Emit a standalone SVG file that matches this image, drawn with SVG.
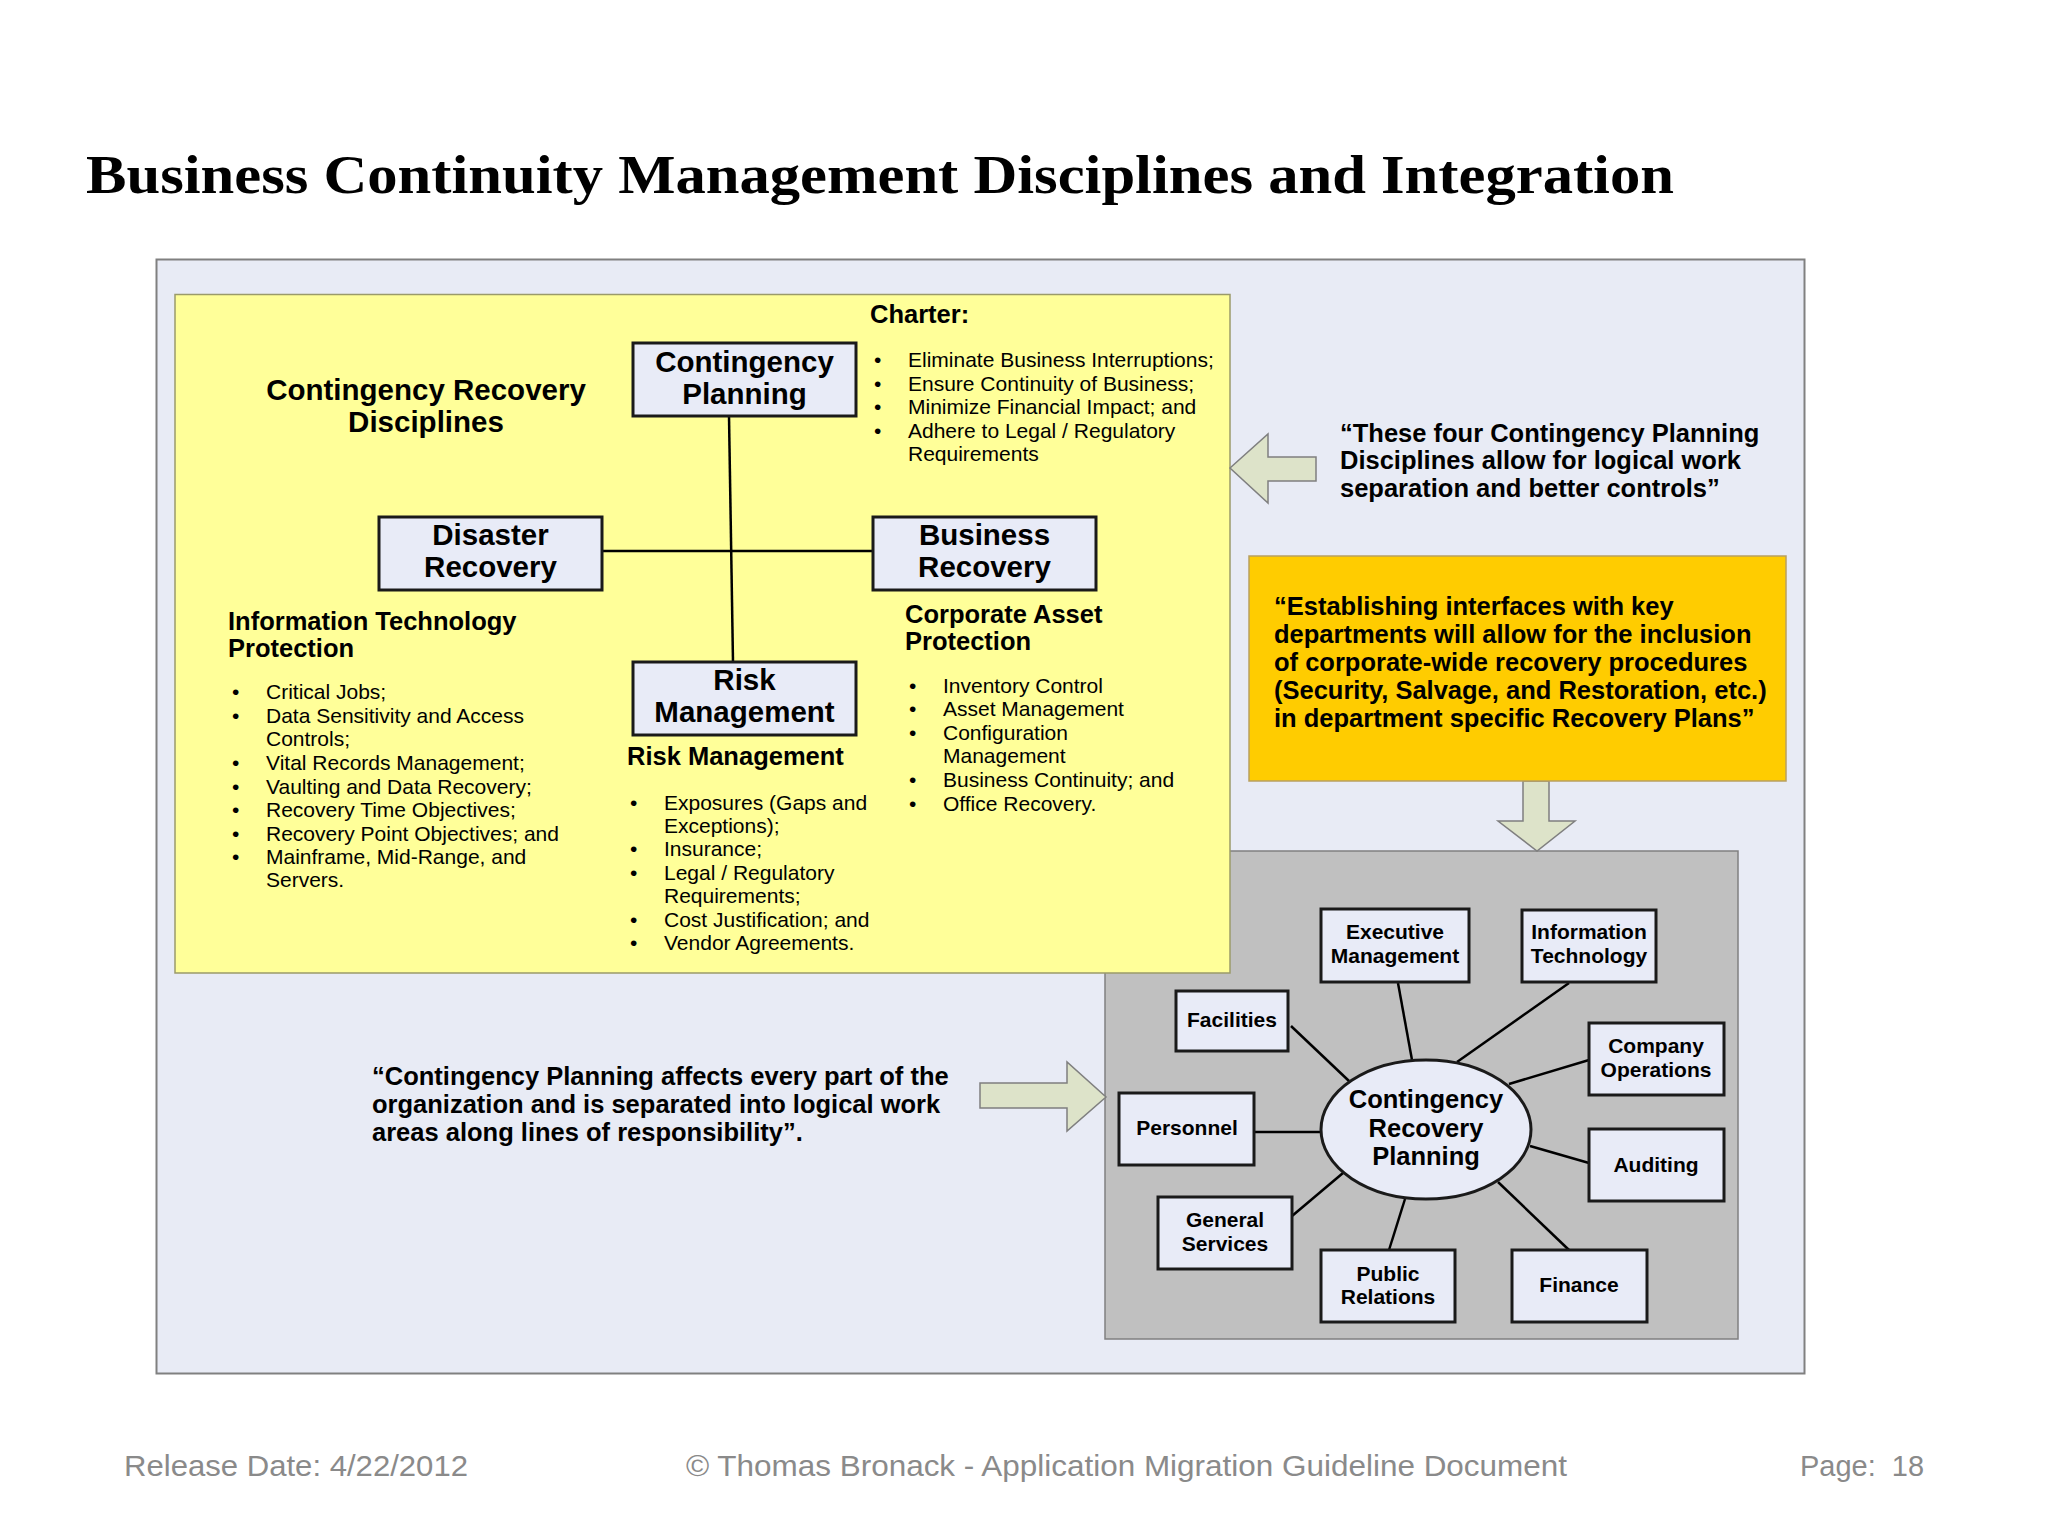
<svg xmlns="http://www.w3.org/2000/svg" width="2048" height="1536" viewBox="0 0 2048 1536">
<style>
.b{font-family:"Liberation Sans",Arial,sans-serif;font-weight:bold;fill:#000}
.r{font-family:"Liberation Sans",Arial,sans-serif;fill:#000;font-size:21px}
.box{fill:#e8ebf7;stroke:#1a1a1a;stroke-width:3}
.nbox{fill:#e8ebf7;stroke:#1a1a1a;stroke-width:3}
.ln{stroke:#000;stroke-width:2.5;fill:none}
.arr{fill:#dde3c9;stroke:#7f7f7f;stroke-width:1.5}
.bx{font-size:29.5px;text-anchor:middle}
.h{font-size:25.5px}
.nd{font-size:21px;text-anchor:middle}
.el{font-size:25.5px;text-anchor:middle}
.ft{font-family:"Liberation Sans",Arial,sans-serif;fill:#8a8a8a;font-size:30px}
</style>
<rect width="2048" height="1536" fill="#ffffff"/>
<text x="86" y="193" font-family="'Liberation Serif','Times New Roman',serif" font-weight="bold" font-size="55" textLength="1588" lengthAdjust="spacingAndGlyphs">Business Continuity Management Disciplines and Integration</text>

<g id="outer-panel"><rect x="156.5" y="259.5" width="1648" height="1114" fill="#e8ebf5" stroke="#808080" stroke-width="2"/></g>
<g id="gray-panel"><rect x="1105" y="851" width="633" height="488" fill="#c0c0c0" stroke="#808080" stroke-width="1.5"/></g>
<g id="yellow-panel"><rect x="175" y="294.5" width="1055" height="678.5" fill="#ffff99" stroke="#9a9a6a" stroke-width="1.5"/></g>

<g id="connectors">
  <line class="ln" x1="729" y1="416" x2="733" y2="662"/>
  <line class="ln" x1="602" y1="551" x2="873" y2="551"/>
  <line class="ln" x1="1398" y1="983" x2="1412" y2="1060"/>
  <line class="ln" x1="1569" y1="983" x2="1457" y2="1062"/>
  <line class="ln" x1="1291" y1="1026" x2="1349" y2="1081"/>
  <line class="ln" x1="1589" y1="1060" x2="1509" y2="1084"/>
  <line class="ln" x1="1254" y1="1132" x2="1321" y2="1132"/>
  <line class="ln" x1="1589" y1="1163" x2="1530" y2="1146"/>
  <line class="ln" x1="1292" y1="1216" x2="1343" y2="1173"/>
  <line class="ln" x1="1389" y1="1250" x2="1405" y2="1199"/>
  <line class="ln" x1="1569" y1="1250" x2="1498" y2="1182"/>
  <polygon class="arr" points="1230,468 1268,434 1268,457 1316,457 1316,481 1268,481 1268,503"/>
  <polygon class="arr" points="1523,781 1549,781 1549,821 1575,821 1537,851 1498,821 1523,821"/>
  <polygon class="arr" points="980,1083 1067,1083 1067,1062 1106,1097 1067,1131 1067,1108 980,1108"/>
</g>

<g id="heading-disciplines">
  <text class="b bx" x="426" y="400">Contingency Recovery</text>
  <text class="b bx" x="426" y="432">Disciplines</text>
</g>

<g id="node-contingency-planning">
  <rect class="box" x="633" y="343" width="223" height="73"/>
  <text class="b bx" x="744.5" y="372">Contingency</text>
  <text class="b bx" x="744.5" y="404">Planning</text>
</g>
<g id="node-disaster-recovery">
  <rect class="box" x="379" y="517" width="223" height="73"/>
  <text class="b bx" x="490.5" y="545">Disaster</text>
  <text class="b bx" x="490.5" y="577">Recovery</text>
</g>
<g id="node-business-recovery">
  <rect class="box" x="873" y="517" width="223" height="73"/>
  <text class="b bx" x="984.5" y="545">Business</text>
  <text class="b bx" x="984.5" y="577">Recovery</text>
</g>
<g id="node-risk-management">
  <rect class="box" x="633" y="662" width="223" height="73"/>
  <text class="b bx" x="744.5" y="690">Risk</text>
  <text class="b bx" x="744.5" y="722">Management</text>
</g>

<g id="charter">
  <text class="b h" x="870" y="323">Charter:</text>
  <g class="r">
    <text x="874" y="367">•</text><text x="908" y="367">Eliminate Business Interruptions;</text>
    <text x="874" y="391">•</text><text x="908" y="391">Ensure Continuity of Business;</text>
    <text x="874" y="414">•</text><text x="908" y="414">Minimize Financial Impact; and</text>
    <text x="874" y="438">•</text><text x="908" y="438">Adhere to Legal / Regulatory</text>
    <text x="908" y="461">Requirements</text>
  </g>
</g>

<g id="it-protection">
  <text class="b h" x="228" y="630">Information Technology</text>
  <text class="b h" x="228" y="657">Protection</text>
  <g class="r">
    <text x="232" y="699">•</text><text x="266" y="699">Critical Jobs;</text>
    <text x="232" y="723">•</text><text x="266" y="723">Data Sensitivity and Access</text>
    <text x="266" y="746">Controls;</text>
    <text x="232" y="770">•</text><text x="266" y="770">Vital Records Management;</text>
    <text x="232" y="794">•</text><text x="266" y="794">Vaulting and Data Recovery;</text>
    <text x="232" y="817">•</text><text x="266" y="817">Recovery Time Objectives;</text>
    <text x="232" y="841">•</text><text x="266" y="841">Recovery Point Objectives; and</text>
    <text x="232" y="864">•</text><text x="266" y="864">Mainframe, Mid-Range, and</text>
    <text x="266" y="887">Servers.</text>
  </g>
</g>

<g id="corporate-asset-protection">
  <text class="b h" x="905" y="623">Corporate Asset</text>
  <text class="b h" x="905" y="650">Protection</text>
  <g class="r">
    <text x="909" y="693">•</text><text x="943" y="693">Inventory Control</text>
    <text x="909" y="716">•</text><text x="943" y="716">Asset Management</text>
    <text x="909" y="740">•</text><text x="943" y="740">Configuration</text>
    <text x="943" y="763">Management</text>
    <text x="909" y="787">•</text><text x="943" y="787">Business Continuity; and</text>
    <text x="909" y="811">•</text><text x="943" y="811">Office Recovery.</text>
  </g>
</g>

<g id="risk-management-list">
  <text class="b h" x="627" y="765">Risk Management</text>
  <g class="r">
    <text x="630" y="810">•</text><text x="664" y="810">Exposures (Gaps and</text>
    <text x="664" y="833">Exceptions);</text>
    <text x="630" y="856">•</text><text x="664" y="856">Insurance;</text>
    <text x="630" y="880">•</text><text x="664" y="880">Legal / Regulatory</text>
    <text x="664" y="903">Requirements;</text>
    <text x="630" y="927">•</text><text x="664" y="927">Cost Justification; and</text>
    <text x="630" y="950">•</text><text x="664" y="950">Vendor Agreements.</text>
  </g>
</g>

<g id="quote-four-disciplines">
  <text class="b h" x="1340" y="442">“These four Contingency Planning</text>
  <text class="b h" x="1340" y="469">Disciplines allow for logical work</text>
  <text class="b h" x="1340" y="497">separation and better controls”</text>
</g>

<g id="quote-interfaces">
  <rect x="1249" y="556" width="537" height="225" fill="#ffcc00" stroke="#b8a060" stroke-width="1.5"/>
  <text class="b h" x="1274" y="615">“Establishing interfaces with key</text>
  <text class="b h" x="1274" y="643">departments will allow for the inclusion</text>
  <text class="b h" x="1274" y="671">of corporate-wide recovery procedures</text>
  <text class="b h" x="1274" y="699">(Security, Salvage, and Restoration, etc.)</text>
  <text class="b h" x="1274" y="727">in department specific Recovery Plans”</text>
</g>

<g id="quote-affects">
  <text class="b h" x="372" y="1085">“Contingency Planning affects every part of the</text>
  <text class="b h" x="372" y="1113">organization and is separated into logical work</text>
  <text class="b h" x="372" y="1141">areas along lines of responsibility”.</text>
</g>

<g id="node-crp">
  <ellipse cx="1426" cy="1129.5" rx="105" ry="69.5" fill="#e8ebf7" stroke="#1a1a1a" stroke-width="3"/>
  <text class="b el" x="1426" y="1108">Contingency</text>
  <text class="b el" x="1426" y="1137">Recovery</text>
  <text class="b el" x="1426" y="1165">Planning</text>
</g>
<g id="node-executive-management">
  <rect class="nbox" x="1321" y="909" width="148" height="73"/>
  <text class="b nd" x="1395" y="939">Executive</text>
  <text class="b nd" x="1395" y="963">Management</text>
</g>
<g id="node-information-technology">
  <rect class="nbox" x="1522" y="910" width="134" height="72"/>
  <text class="b nd" x="1589" y="939">Information</text>
  <text class="b nd" x="1589" y="963">Technology</text>
</g>
<g id="node-facilities">
  <rect class="nbox" x="1176" y="991" width="112" height="60"/>
  <text class="b nd" x="1232" y="1027">Facilities</text>
</g>
<g id="node-company-operations">
  <rect class="nbox" x="1589" y="1023" width="135" height="72"/>
  <text class="b nd" x="1656" y="1053">Company</text>
  <text class="b nd" x="1656" y="1077">Operations</text>
</g>
<g id="node-personnel">
  <rect class="nbox" x="1119" y="1093" width="135" height="72"/>
  <text class="b nd" x="1187" y="1135">Personnel</text>
</g>
<g id="node-auditing">
  <rect class="nbox" x="1589" y="1129" width="135" height="72"/>
  <text class="b nd" x="1656" y="1172">Auditing</text>
</g>
<g id="node-general-services">
  <rect class="nbox" x="1158" y="1197" width="134" height="72"/>
  <text class="b nd" x="1225" y="1227">General</text>
  <text class="b nd" x="1225" y="1251">Services</text>
</g>
<g id="node-public-relations">
  <rect class="nbox" x="1321" y="1250" width="134" height="72"/>
  <text class="b nd" x="1388" y="1281">Public</text>
  <text class="b nd" x="1388" y="1304">Relations</text>
</g>
<g id="node-finance">
  <rect class="nbox" x="1512" y="1250" width="135" height="72"/>
  <text class="b nd" x="1579" y="1292">Finance</text>
</g>

<g id="footer">
  <text class="ft" x="124" y="1476" textLength="344" lengthAdjust="spacingAndGlyphs">Release Date: 4/22/2012</text>
  <text class="ft" x="686" y="1476" textLength="881" lengthAdjust="spacingAndGlyphs">© Thomas Bronack - Application Migration Guideline Document</text>
  <text class="ft" x="1800" y="1476" textLength="124" lengthAdjust="spacingAndGlyphs" xml:space="preserve">Page:  18</text>
</g>
</svg>
